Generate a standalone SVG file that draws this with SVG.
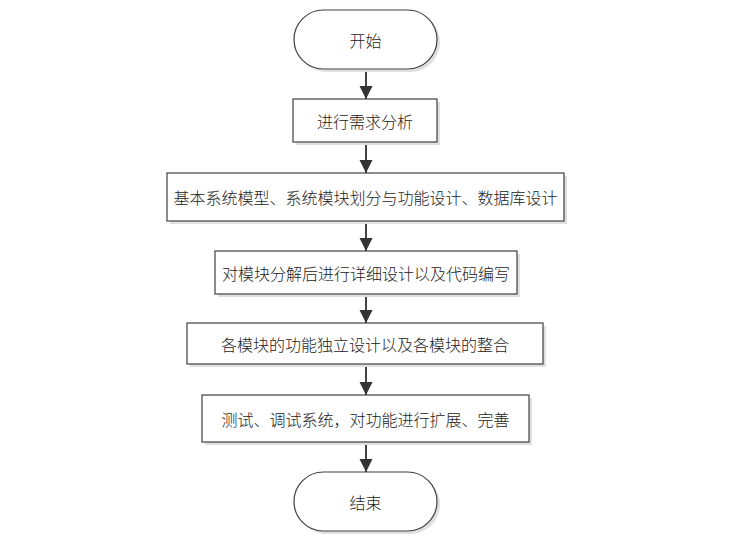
<svg xmlns="http://www.w3.org/2000/svg" width="732" height="549" viewBox="0 0 732 549">
<style>
.shape{fill:#fff;stroke:#404040;stroke-width:1.2}
.shadow{fill:#e0e0e0;stroke:none}
.lbl{font-family:"Noto Sans CJK SC","Noto Sans",sans-serif;font-size:16px;font-weight:300;fill:#222;text-anchor:middle;dominant-baseline:central}
.conn{stroke:#404040;stroke-width:2;fill:none}
</style>
<defs>
<marker id="arr" markerWidth="13" markerHeight="14" refX="13" refY="6.5" orient="auto" markerUnits="userSpaceOnUse">
<path d="M0,0 L13,6.5 L0,13 Z" fill="#333"/>
</marker>
</defs>
<rect width="732" height="549" fill="#fff"/>
<g id="connectors">
<line class="conn" x1="366" y1="69" x2="366" y2="99" marker-end="url(#arr)"/>
<line class="conn" x1="366" y1="142" x2="366" y2="173" marker-end="url(#arr)"/>
<line class="conn" x1="366" y1="221" x2="366" y2="251" marker-end="url(#arr)"/>
<line class="conn" x1="366" y1="294" x2="366" y2="323" marker-end="url(#arr)"/>
<line class="conn" x1="366" y1="364" x2="366" y2="395" marker-end="url(#arr)"/>
<line class="conn" x1="366" y1="442" x2="366" y2="472" marker-end="url(#arr)"/>
</g>
<g id="start">
<rect class="shadow" x="297" y="13" width="143" height="59" rx="29.5"/>
<rect class="shape" x="294" y="10" width="143" height="59" rx="29.5"/>
<text class="lbl" x="365.5" y="39.5">开始</text>
</g>
<g id="step1">
<rect class="shadow" x="296" y="102" width="144" height="43"/>
<rect class="shape" x="293" y="99" width="144" height="43"/>
<text class="lbl" x="365" y="120.5">进行需求分析</text>
</g>
<g id="step2">
<rect class="shadow" x="170" y="176" width="397" height="48"/>
<rect class="shape" x="167" y="173" width="397" height="48"/>
<text class="lbl" x="365.5" y="197">基本系统模型、系统模块划分与功能设计、数据库设计</text>
</g>
<g id="step3">
<rect class="shadow" x="218" y="254" width="302" height="43"/>
<rect class="shape" x="215" y="251" width="302" height="43"/>
<text class="lbl" x="366" y="272.5">对模块分解后进行详细设计以及代码编写</text>
</g>
<g id="step4">
<rect class="shadow" x="190" y="326" width="356" height="41"/>
<rect class="shape" x="187" y="323" width="356" height="41"/>
<text class="lbl" x="365" y="343.5">各模块的功能独立设计以及各模块的整合</text>
</g>
<g id="step5">
<rect class="shadow" x="205" y="398" width="327" height="47"/>
<rect class="shape" x="202" y="395" width="327" height="47"/>
<text class="lbl" x="365.5" y="418.5">测试、调试系统，对功能进行扩展、完善</text>
</g>
<g id="end">
<rect class="shadow" x="297" y="475" width="143" height="59" rx="29.5"/>
<rect class="shape" x="294" y="472" width="143" height="59" rx="29.5"/>
<text class="lbl" x="365.5" y="501.5">结束</text>
</g>
</svg>
